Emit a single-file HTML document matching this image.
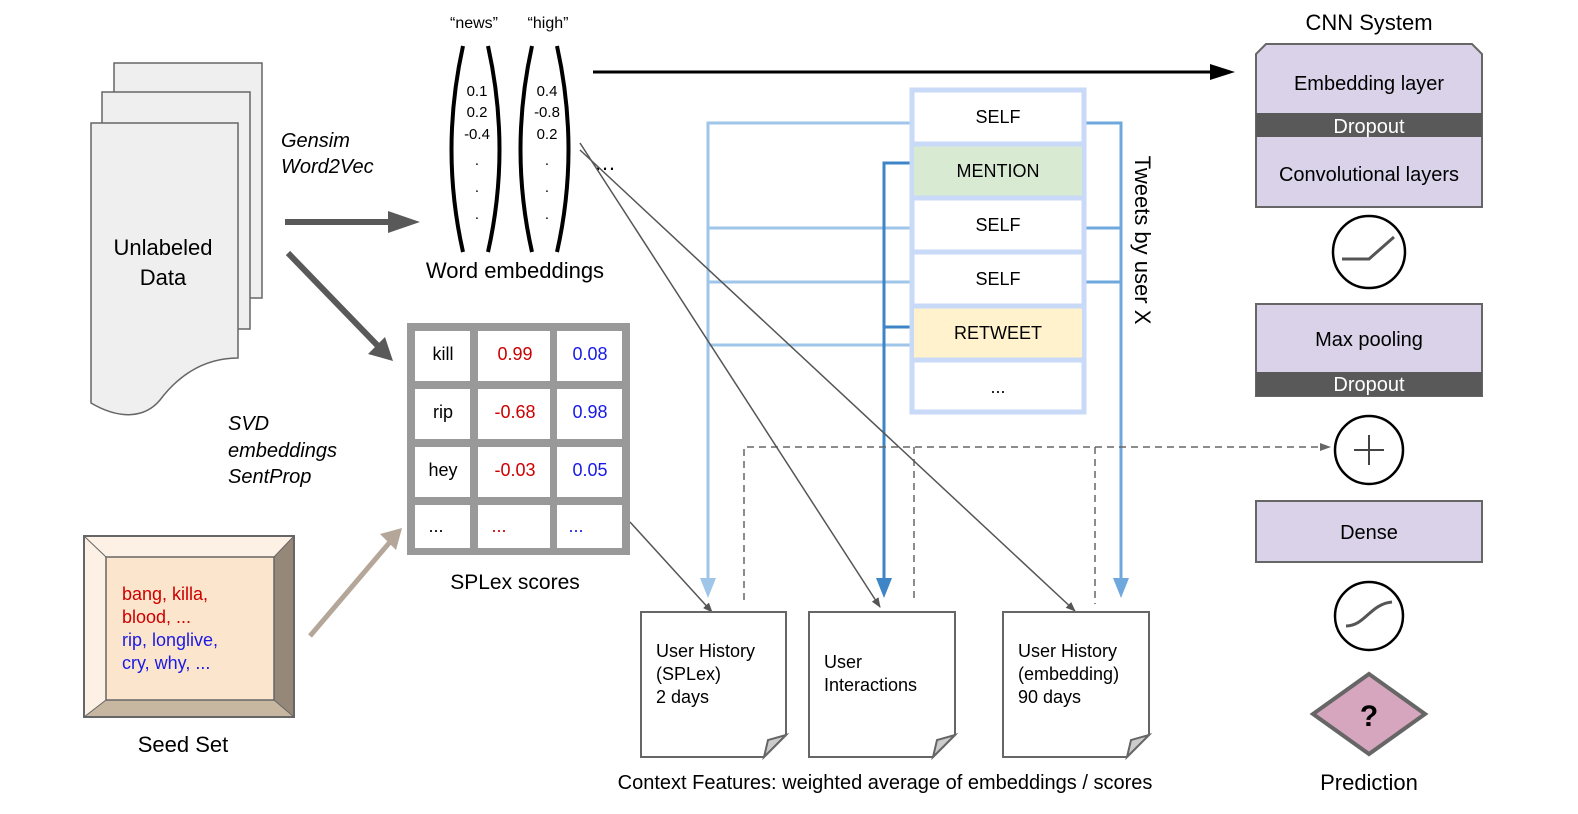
<!DOCTYPE html>
<html><head><meta charset="utf-8"><style>
html,body{margin:0;padding:0;background:#fff;}
svg{display:block;font-family:"Liberation Sans",Arial,sans-serif;}
</style></head><body>
<svg width="1578" height="814" viewBox="0 0 1578 814" xmlns="http://www.w3.org/2000/svg">
<defs>
<marker id="ah" markerWidth="10" markerHeight="8" refX="9" refY="4" orient="auto" markerUnits="userSpaceOnUse"><path d="M0,0 L10,4 L0,8 z" fill="#555"/></marker>
</defs>
<!-- Unlabeled data pages -->
<rect x="114" y="63" width="148" height="235" fill="#efefef" stroke="#666" stroke-width="1.5"/>
<rect x="102" y="92" width="148" height="237" fill="#efefef" stroke="#666" stroke-width="1.5"/>
<path d="M91,123 L238,123 L238,358 C200,358 175,380 160,400 C145,418 120,420 91,403 Z" fill="#efefef" stroke="#666" stroke-width="1.5"/>
<text x="163" y="255" font-size="22" text-anchor="middle">Unlabeled</text>
<text x="163" y="285" font-size="22" text-anchor="middle">Data</text>
<text x="281" y="147" font-size="20" font-style="italic">Gensim</text>
<text x="281" y="173" font-size="20" font-style="italic">Word2Vec</text>
<!-- gray arrows -->
<line x1="285" y1="222" x2="392" y2="222" stroke="#595959" stroke-width="6"/>
<path d="M388,211 L420,222 L388,233 Z" fill="#595959"/>
<line x1="288" y1="253" x2="378" y2="346" stroke="#595959" stroke-width="6"/>
<path d="M368,354 L393,361 L385,337 Z" fill="#595959"/>
<!-- embeddings -->
<text x="474" y="28" font-size="16" text-anchor="middle">“news”</text>
<text x="548" y="28" font-size="16" text-anchor="middle">“high”</text>
<g stroke="#000" stroke-width="4" fill="none">
<path d="M463,46 Q440,150 463,252"/><path d="M488,46 Q511,150 488,252"/>
<path d="M532,46 Q509,150 532,252"/><path d="M557,46 Q580,150 557,252"/>
</g>
<g font-size="15" text-anchor="middle">
<text x="477" y="96">0.1</text><text x="477" y="117">0.2</text><text x="477" y="139">-0.4</text>
<text x="477" y="165">.</text><text x="477" y="192">.</text><text x="477" y="219">.</text>
<text x="547" y="96">0.4</text><text x="547" y="117">-0.8</text><text x="547" y="139">0.2</text>
<text x="547" y="165">.</text><text x="547" y="192">.</text><text x="547" y="219">.</text>
</g>
<text x="594" y="170" font-size="22">…</text>
<text x="515" y="278" font-size="22" text-anchor="middle">Word embeddings</text>
<line x1="593" y1="72" x2="1212" y2="72" stroke="#000" stroke-width="3"/>
<path d="M1210,64 L1235,72 L1210,80 Z" fill="#000"/>
<!-- blue connectors -->
<g fill="none" stroke-width="3">
<path d="M910,123 H708 V582 M708,228 H910 M708,282 H910 M708,345 H910" stroke="#9fc5e8"/>
<path d="M910,163 H884 V582 M884,327 H910" stroke="#3d85c6"/>
<path d="M1086,123 H1121 V582 M1086,228 H1121 M1086,282 H1121" stroke="#6fa8dc"/>
</g>
<path d="M700,578 L716,578 L708,598 Z" fill="#9fc5e8"/>
<path d="M876,578 L892,578 L884,598 Z" fill="#3d85c6"/>
<path d="M1113,578 L1129,578 L1121,598 Z" fill="#6fa8dc"/>
<!-- tweets panel -->
<rect x="912" y="90" width="172" height="322" fill="#fff" stroke="#c9daf8" stroke-width="5"/>
<rect x="914" y="146" width="168" height="50" fill="#d9ead3"/>
<rect x="914" y="308" width="168" height="50" fill="#fff2cc"/>
<g stroke="#c9daf8" stroke-width="5">
<line x1="912" y1="144" x2="1084" y2="144"/><line x1="912" y1="198" x2="1084" y2="198"/>
<line x1="912" y1="252" x2="1084" y2="252"/><line x1="912" y1="306" x2="1084" y2="306"/>
<line x1="912" y1="360" x2="1084" y2="360"/>
</g>
<g font-size="18" text-anchor="middle">
<text x="998" y="123">SELF</text><text x="998" y="177">MENTION</text><text x="998" y="231">SELF</text>
<text x="998" y="285">SELF</text><text x="998" y="339">RETWEET</text><text x="998" y="393">...</text>
</g>
<text transform="translate(1135,240) rotate(90)" font-size="22" text-anchor="middle">Tweets by user X</text>
<!-- dashed -->
<g stroke="#666" stroke-width="1.5" stroke-dasharray="7,5" fill="none">
<path d="M744,600 V447 H1322"/><line x1="914" y1="447" x2="914" y2="600"/><line x1="1095" y1="447" x2="1095" y2="604"/>
</g>
<path d="M1320,443 L1331,447 L1320,451 Z" fill="#666"/>
<!-- thin arrows -->
<g stroke="#555" stroke-width="1.5" marker-end="url(#ah)">
<line x1="580" y1="143" x2="880" y2="607"/>
<line x1="580" y1="150" x2="1075" y2="611"/>
<line x1="630" y1="522" x2="712" y2="612"/>
</g>
<!-- doc boxes -->
<g stroke="#666" stroke-width="2">
<path d="M641,612 H786 V735 L764,757 H641 Z" fill="#fff"/><path d="M786,735 L764,757 L768,740 Z" fill="#ccc"/>
<path d="M809,612 H955 V735 L933,757 H809 Z" fill="#fff"/><path d="M955,735 L933,757 L937,740 Z" fill="#ccc"/>
<path d="M1003,612 H1149 V735 L1127,757 H1003 Z" fill="#fff"/><path d="M1149,735 L1127,757 L1131,740 Z" fill="#ccc"/>
</g>
<g font-size="18">
<text x="656" y="657">User History</text><text x="656" y="680">(SPLex)</text><text x="656" y="703">2 days</text>
<text x="824" y="668">User</text><text x="824" y="691">Interactions</text>
<text x="1018" y="657">User History</text><text x="1018" y="680">(embedding)</text><text x="1018" y="703">90 days</text>
</g>
<text x="885" y="789" font-size="20" text-anchor="middle">Context Features: weighted average of embeddings / scores</text>
<!-- SPLex table -->
<rect x="407" y="323" width="223" height="232" fill="#999"/>
<g fill="#fff">
<rect x="415" y="331" width="55" height="50"/><rect x="478" y="331" width="72" height="50"/><rect x="557" y="331" width="65" height="50"/>
<rect x="415" y="389" width="55" height="50"/><rect x="478" y="389" width="72" height="50"/><rect x="557" y="389" width="65" height="50"/>
<rect x="415" y="447" width="55" height="50"/><rect x="478" y="447" width="72" height="50"/><rect x="557" y="447" width="65" height="50"/>
<rect x="415" y="505" width="55" height="43"/><rect x="478" y="505" width="72" height="43"/><rect x="557" y="505" width="65" height="43"/>
</g>
<g font-size="18" text-anchor="middle">
<text x="443" y="360">kill</text><text x="515" y="360" fill="#cc0000">0.99</text><text x="590" y="360" fill="#1a1ae6">0.08</text>
<text x="443" y="418">rip</text><text x="515" y="418" fill="#cc0000">-0.68</text><text x="590" y="418" fill="#1a1ae6">0.98</text>
<text x="443" y="476">hey</text><text x="515" y="476" fill="#cc0000">-0.03</text><text x="590" y="476" fill="#1a1ae6">0.05</text>
<text x="436" y="532">...</text><text x="499" y="532" fill="#cc0000">...</text><text x="576" y="532" fill="#1a1ae6">...</text>
</g>
<text x="515" y="589" font-size="21" text-anchor="middle">SPLex scores</text>
<g font-size="20" font-style="italic"><text x="228" y="430">SVD</text><text x="228" y="457">embeddings</text><text x="228" y="483">SentProp</text></g>
<!-- seed set -->
<path d="M84,536 H294 L274,557 H106 Z" fill="#fdf0e4"/>
<path d="M84,536 L106,557 V700 L84,717 Z" fill="#fdf0e4"/>
<path d="M294,536 V717 L274,700 V557 Z" fill="#968878"/>
<path d="M84,717 L106,700 H274 L294,717 Z" fill="#c7b6a0"/>
<rect x="106" y="557" width="168" height="143" fill="#fce5cd" stroke="#666" stroke-width="1.5"/>
<rect x="84" y="536" width="210" height="181" fill="none" stroke="#666" stroke-width="2"/>
<g stroke="#666" stroke-width="1"><line x1="84" y1="536" x2="106" y2="557"/><line x1="294" y1="536" x2="274" y2="557"/><line x1="84" y1="717" x2="106" y2="700"/><line x1="294" y1="717" x2="274" y2="700"/></g>
<g font-size="18"><text x="122" y="600" fill="#cc0000">bang, killa,</text><text x="122" y="623" fill="#cc0000">blood, ...</text>
<text x="122" y="646" fill="#1a1ae6">rip, longlive,</text><text x="122" y="669" fill="#1a1ae6">cry, why, ...</text></g>
<text x="183" y="752" font-size="22" text-anchor="middle">Seed Set</text>
<line x1="310" y1="636" x2="390" y2="542" stroke="#b4a698" stroke-width="5"/>
<path d="M380,534 L402,528 L396,550 Z" fill="#b4a698"/>
<!-- CNN -->
<text x="1369" y="30" font-size="22" text-anchor="middle">CNN System</text>
<path d="M1266,44 H1472 L1482,54 V207 H1256 V54 Z" fill="#d9d2e9" stroke="#666" stroke-width="2"/>
<rect x="1256" y="113" width="226" height="24" fill="#595959"/>
<text x="1369" y="90" font-size="20" text-anchor="middle">Embedding layer</text>
<text x="1369" y="133" font-size="20" text-anchor="middle" fill="#fff">Dropout</text>
<text x="1369" y="181" font-size="20" text-anchor="middle">Convolutional layers</text>
<circle cx="1369" cy="252" r="36" fill="#fff" stroke="#000" stroke-width="2.5"/>
<path d="M1342,259 H1369 L1394,237" fill="none" stroke="#555" stroke-width="3"/>
<rect x="1256" y="304" width="226" height="92" fill="#d9d2e9" stroke="#666" stroke-width="2"/>
<rect x="1256" y="372" width="226" height="24" fill="#595959"/>
<text x="1369" y="346" font-size="20" text-anchor="middle">Max pooling</text>
<text x="1369" y="391" font-size="20" text-anchor="middle" fill="#fff">Dropout</text>
<circle cx="1369" cy="450" r="34" fill="#fff" stroke="#000" stroke-width="2.5"/>
<path d="M1354,450 H1384 M1369,435 V465" stroke="#444" stroke-width="2"/>
<rect x="1256" y="501" width="226" height="61" fill="#d9d2e9" stroke="#666" stroke-width="2"/>
<text x="1369" y="539" font-size="20" text-anchor="middle">Dense</text>
<circle cx="1369" cy="616" r="34" fill="#fff" stroke="#000" stroke-width="2.5"/>
<path d="M1346,626 C1365,626 1370,604 1392,602" fill="none" stroke="#555" stroke-width="3"/>
<path d="M1369,674 L1425,714 L1369,754 L1313,714 Z" fill="#d5a6bd" stroke="#666" stroke-width="4"/>
<text x="1369" y="726" font-size="30" font-weight="bold" text-anchor="middle">?</text>
<text x="1369" y="790" font-size="22" text-anchor="middle">Prediction</text>
</svg>
</body></html>
